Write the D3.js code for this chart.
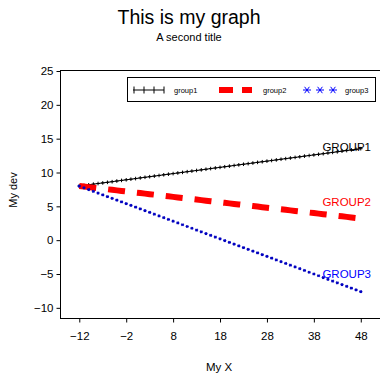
<!DOCTYPE html>
<html><head><meta charset="utf-8">
<script src="https://cdn.jsdelivr.net/npm/d3@7"></script>
<style>body{margin:0;background:#fff}svg{display:block;font-family:"Liberation Sans",Arial,sans-serif}</style>
</head><body><div id="chart"></div>
<script>
const xValues = [-12,-11,-10,-9,-8,-7,-6,-5,-4,-3,-2,-1,0,1,2,3,4,5,6,7,8,9,10,11,12,13,14,15,16,17,18,19,20,21,22,23,24,25,26,27,28,29,30,31,32,33,34,35,36,37,38,39,40,41,42,43,44,45,46,47,48];
const group1 = [8.00,8.09,8.18,8.28,8.37,8.46,8.55,8.64,8.74,8.83,8.92,9.01,9.10,9.20,9.29,9.38,9.47,9.56,9.66,9.75,9.84,9.93,10.02,10.12,10.21,10.30,10.39,10.48,10.58,10.67,10.76,10.85,10.94,11.04,11.13,11.22,11.31,11.40,11.50,11.59,11.68,11.77,11.86,11.96,12.05,12.14,12.23,12.32,12.42,12.51,12.60,12.69,12.78,12.88,12.97,13.06,13.15,13.24,13.34,13.43,13.52];
const group2 = [8.00,7.92,7.84,7.76,7.68,7.60,7.52,7.44,7.36,7.28,7.20,7.12,7.04,6.96,6.88,6.80,6.72,6.64,6.56,6.48,6.40,6.32,6.24,6.16,6.08,6.00,5.92,5.84,5.76,5.68,5.60,5.52,5.44,5.36,5.28,5.20,5.12,5.04,4.96,4.88,4.80,4.72,4.64,4.56,4.48,4.40,4.32,4.24,4.16,4.08,4.00,3.92,3.84,3.76,3.68,3.60,3.52,3.44,3.36,3.28,3.20];
const group3 = [8.00,7.74,7.48,7.22,6.96,6.70,6.44,6.18,5.92,5.66,5.40,5.14,4.88,4.62,4.36,4.10,3.84,3.58,3.32,3.06,2.80,2.54,2.28,2.02,1.76,1.50,1.24,0.98,0.72,0.46,0.20,-0.06,-0.32,-0.58,-0.84,-1.10,-1.36,-1.62,-1.88,-2.14,-2.40,-2.66,-2.92,-3.18,-3.44,-3.70,-3.96,-4.22,-4.48,-4.74,-5.00,-5.26,-5.52,-5.78,-6.04,-6.30,-6.56,-6.82,-7.08,-7.34,-7.60];
const xTicks = [-12,-2,8,18,28,38,48];
const yTicks = [-10,-5,0,5,10,15,20,25];
const seriesNames = ["group1","group2","group3"];
const endLabels = ["GROUP1","GROUP2","GROUP3"];
const labelX = [45,45,45];
const labelY = [13.8,5.65,-5.0];
const colors = ["#000000","#ff0000","#0000ff"];

const W = 380, H = 380;
const svg = d3.select("#chart").append("svg").attr("width", W).attr("height", H);
const x = d3.scaleLinear().domain([-15.9, 52.1]).range([61, 380]);
const y = d3.scaleLinear().domain([-11.65, 25]).range([319, 71]);
const fmt = d => (d < 0 ? "\u2212" + Math.abs(d) : String(d));

// titles
svg.append("text").attr("x", 189).attr("y", 24).attr("text-anchor", "middle")
  .attr("font-size", 19.5).text("This is my graph");
svg.append("text").attr("x", 189).attr("y", 41).attr("text-anchor", "middle")
  .attr("font-size", 11).text("A second title");

// frame
svg.append("rect").attr("x", 60.5).attr("y", 70.5).attr("width", 320).attr("height", 248)
  .attr("fill", "none").attr("stroke", "#000");

// axes
const yAxis = svg.append("g").attr("transform", "translate(60.5,0)")
  .call(d3.axisLeft(y).tickValues(yTicks).tickSize(4).tickPadding(3).tickFormat(fmt));
yAxis.select(".domain").remove();
yAxis.selectAll("text").attr("font-size", 11.5).attr("font-family", "Liberation Sans, Arial, sans-serif");
const xAxis = svg.append("g").attr("transform", "translate(0,318.5)")
  .call(d3.axisBottom(x).tickValues(xTicks).tickSize(4).tickPadding(9).tickFormat(fmt));
xAxis.select(".domain").remove();
xAxis.selectAll("text").attr("font-size", 11.5).attr("font-family", "Liberation Sans, Arial, sans-serif");

svg.append("text").attr("x", 219).attr("y", 371).attr("text-anchor", "middle")
  .attr("font-size", 11.5).text("My X");
svg.append("text").attr("transform", "translate(17,190) rotate(-90)").attr("text-anchor", "middle")
  .attr("font-size", 11).text("My dev");

const plot = svg.append("g");
const line = d3.line().x((d, i) => x(xValues[i])).y(d => y(d));

// group1: thin line with + markers
plot.append("path").datum(group1).attr("d", line).attr("fill", "none")
  .attr("stroke", colors[0]).attr("stroke-width", 1);
plot.append("g").selectAll("path").data(group1).join("path")
  .attr("d", (d, i) => { const cx = x(xValues[i]), cy = y(d); return `M${cx-1.8},${cy}H${cx+1.8}M${cx},${cy-1.8}V${cy+1.8}`; })
  .attr("stroke", colors[0]).attr("stroke-width", 1).attr("fill", "none");

// group2: thick red dashed line
plot.append("path").datum(group2).attr("d", line).attr("fill", "none")
  .attr("stroke", colors[1]).attr("stroke-width", 6).attr("stroke-dasharray", "17,12");

// group3: blue star markers
const star = (cx, cy, r) => `M${cx-r},${cy}H${cx+r}M${cx-r*0.6},${cy-r*0.8}L${cx+r*0.6},${cy+r*0.8}M${cx-r*0.6},${cy+r*0.8}L${cx+r*0.6},${cy-r*0.8}`;
plot.append("g").selectAll("path").data(group3).join("path")
  .attr("d", (d, i) => star(x(xValues[i]), y(d), 1.6))
  .attr("stroke", "#0000c0").attr("stroke-width", 1.1).attr("fill", "none");

// end labels
svg.append("g").selectAll("text").data(endLabels).join("text")
  .attr("x", (d, i) => x(labelX[i])).attr("y", (d, i) => y(labelY[i]) + 4)
  .attr("text-anchor", "middle").attr("font-size", 11.5)
  .attr("fill", (d, i) => colors[i]).text(d => d);

// legend
const lg = svg.append("g");
lg.append("rect").attr("x", 127.5).attr("y", 77.5).attr("width", 248).attr("height", 24)
  .attr("fill", "none").attr("stroke", "#000");
const ly = 90;
// group1 entry
lg.append("path").attr("d", `M133,${ly}H164`).attr("stroke", "#000");
[134,144,154,164].forEach(px => lg.append("path").attr("d", `M${px},${ly-3.5}V${ly+3.5}`).attr("stroke", "#000"));
lg.append("text").attr("x", 174).attr("y", ly + 2.5).attr("font-size", 7.5).attr("fill", "#000").text(seriesNames[0]);
// group2 entry
lg.append("path").attr("d", `M219,${ly}H252`).attr("stroke", colors[1]).attr("stroke-width", 6)
  .attr("stroke-dasharray", "14,9");
lg.append("text").attr("x", 263).attr("y", ly + 2.5).attr("font-size", 7.5).attr("fill", "#000").text(seriesNames[1]);
// group3 entry
[307,320,333].forEach(px => lg.append("path").attr("d", star(px, ly, 4)).attr("stroke", colors[2]).attr("stroke-width", 1).attr("fill", "none"));
lg.append("text").attr("x", 345).attr("y", ly + 2.5).attr("font-size", 7.5).attr("fill", "#000").text(seriesNames[2]);
</script></body></html>
